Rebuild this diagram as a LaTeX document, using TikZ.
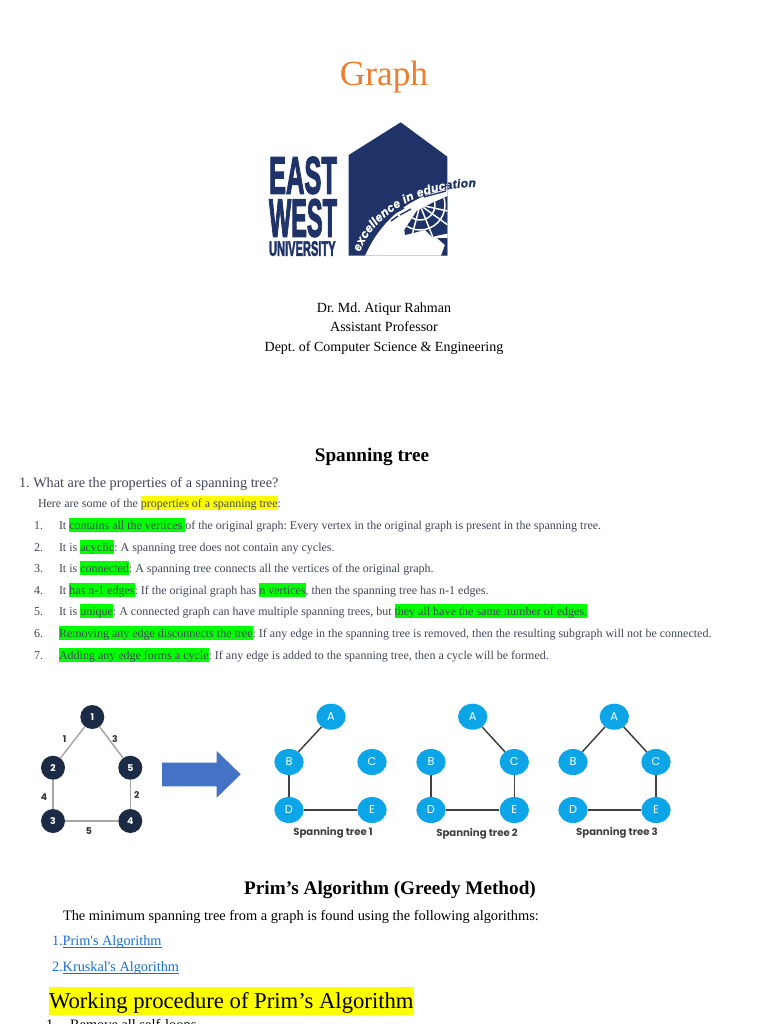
\documentclass[tikz,border=0pt]{standalone}
\usepackage{fontspec}
\usetikzlibrary{shapes.geometric,decorations.text}
\setmainfont{Liberation Serif}
\newfontfamily\lsans{Liberation Sans}[BoldFeatures={FakeBold=3}]
\newfontfamily\tagfont{Liberation Sans}[BoldItalicFeatures={FakeBold=1.5}]
\newfontfamily\linkfont{Liberation Serif}[Ligatures=TeXOff]
\newfontfamily\gsans{Poppins}
\AtBeginDocument{\frenchspacing}
\definecolor{bodyc}{HTML}{43465A}
\definecolor{navy}{HTML}{1F3369}
\definecolor{darkn}{HTML}{1B2B45}
\definecolor{skyb}{HTML}{0BA5E8}
\definecolor{linkb}{HTML}{1A6FD0}
\definecolor{orng}{HTML}{ED7D31}
\definecolor{arrowb}{HTML}{4472C4}
\definecolor{hlgreen}{HTML}{00FF00}
\definecolor{hlyellow}{HTML}{FFFF00}
\newcommand{\hlg}[1]{{\setlength\fboxsep{0pt}\colorbox{hlgreen}{\rule[-2.6pt]{0pt}{10.8pt}#1}}}
\newcommand{\hly}[1]{{\setlength\fboxsep{0pt}\colorbox{hlyellow}{\rule[-2.6pt]{0pt}{10.8pt}#1}}}
\newcommand{\hlw}[1]{{\setlength\fboxsep{0pt}\colorbox{hlyellow}{\rule[-5.25pt]{0pt}{21pt}#1}}}
\tikzset{
 txt/.style={anchor=base west,inner sep=0pt,outer sep=0pt},
 ctr/.style={anchor=base,inner sep=0pt,outer sep=0pt},
 item/.style={txt,text=bodyc,font=\fontsize{9}{10}\selectfont},
 mid/.style={ctr,font=\fontsize{10.5}{13}\selectfont},
 head/.style={ctr,font=\fontsize{14.4}{16}\selectfont\bfseries},
 link/.style={txt,text=linkb,font=\linkfont\fontsize{10.7}{12}\selectfont},
 logotext/.style={anchor=south west,inner sep=0pt,outer sep=0pt,text=navy,font=\lsans\bfseries},
 gnode/.style={circle,fill=darkn,text=white,minimum size=18pt,inner sep=0pt,font=\gsans\bfseries\fontsize{7}{8}\selectfont},
 gedge/.style={draw=black!35,line width=1.1pt},
 glabel/.style={inner sep=0pt,font=\gsans\bfseries\fontsize{7}{8}\selectfont,text=black!80},
 tnode/.style={ellipse,fill=skyb,text=white,minimum width=22pt,minimum height=19.5pt,inner sep=0pt,font=\gsans\fontsize{8.5}{9}\selectfont},
 tedge/.style={draw=black!75,line width=1.1pt},
 tcap/.style={inner sep=0pt,font=\gsans\bfseries\fontsize{7.6}{9}\selectfont,text=black!75},
 wspoke/.style={draw=white,line width=1.1pt},
 bdash/.style={draw=navy,line width=1pt}
}
\begin{document}
\begin{tikzpicture}[x=0.75pt,y=-0.75pt]
\useasboundingbox (0,0) rectangle (768,1024);
\clip (0,0) rectangle (768,1024);
\fill[white] (0,0) rectangle (768,1024);
% title
\node[ctr,text=orng,font=\fontsize{26.5}{30}\selectfont] (title) at (384,85) {Graph};
% logo wordmark
\node[logotext] (east) at (269,194) {\resizebox{51pt}{27.5pt}{EAST}};
\node[logotext] (west) at (269,237) {\resizebox{51pt}{28pt}{WEST}};
\node[logotext] (univ) at (269,256) {\resizebox{50pt}{11pt}{UNIVERSITY}};
% tagline, outer part in blue
\path[decorate,decoration={text along path,text align={fit to path},text={|\tagfont\bfseries\itshape\fontsize{9}{10}\selectfont\color{navy}|excellence in education}}]
 (360,252) .. controls (370,222) and (410,187) .. (476,187);
% house
\fill[navy] (348.7,155) -- (400.7,122.3) -- (447.3,156.7) -- (447.3,255.7) -- (348.7,255.7) -- cycle;
\begin{scope}
\clip (348.7,155) -- (400.7,122.3) -- (447.3,156.7) -- (447.3,255.7) -- (348.7,255.7) -- cycle;
\path[decorate,decoration={text along path,text align={fit to path},text={|\tagfont\bfseries\itshape\fontsize{9}{10}\selectfont\color{white}|excellence in education}}]
 (360,252) .. controls (370,222) and (410,187) .. (476,187);
% globe
\fill[white] (365,256) .. controls (378,226) and (405,196) .. (450,189) -- (450,256) -- cycle;
\begin{scope}
\clip (404.3,230) -- (416.7,211) -- (432,203) -- (450,195) -- (450,233) -- (440,235) -- (432,237) -- (425,230) -- (405,235) -- cycle;
\fill[navy] (400,190) rectangle (450,240);
\draw[wspoke] (420,205) -- (410,243);
\draw[wspoke] (420,205) -- (436,245);
\draw[wspoke] (420,205) -- (452,228);
\draw[wspoke] (420,205) -- (452,212);
\draw[wspoke] (420,205) circle[radius=15];
\draw[wspoke] (420,205) circle[radius=25];
\end{scope}
\draw[bdash] (391,221) -- (398,216);
\draw[bdash] (400,215) -- (411,209);
\draw[bdash] (395,213) -- (404,208);
\draw[bdash] (407,203) -- (418,198);
\draw[bdash] (424,197) -- (446,191);
\fill[navy] (437,238) -- (445,245) -- (441,255.7) -- (448,255.7) -- (448,238) -- cycle;
\end{scope}
% author
\node[mid] (au1) at (384,312) {Dr. Md. Atiqur Rahman};
\node[mid] (au2) at (384,331) {Assistant Professor};
\node[mid] (au3) at (384,351) {Dept. of Computer Science \& Engineering};
% spanning tree
\node[head] (h1) at (372,461) {Spanning tree};
\node[txt,text=bodyc,font=\fontsize{10.7}{12}\selectfont] (q1) at (19,487) {1. What are the properties of a spanning tree?};
\node[item] (intro) at (38,507) {Here are some of the \hly{properties of a spanning tree}:};
\node[item] (n1) at (34,529) {1.};
\node[item] (n2) at (34,551) {2.};
\node[item] (n3) at (34,572) {3.};
\node[item] (n4) at (34,594) {4.};
\node[item] (n5) at (34,615) {5.};
\node[item] (n6) at (34,637) {6.};
\node[item] (n7) at (34,659) {7.};
\node[item] (l1) at (59,529) {It \hlg{contains all the vertices }of the original graph: Every vertex in the original graph is present in the spanning tree.};
\node[item] (l2) at (59,551) {It is \hlg{acyclic}: A spanning tree does not contain any cycles.};
\node[item] (l3) at (59,572) {It is \hlg{connected}: A spanning tree connects all the vertices of the original graph.};
\node[item] (l4) at (59,594) {It \hlg{has n-1 edges}: If the original graph has \hlg{n vertices}, then the spanning tree has n-1 edges.};
\node[item] (l5) at (59,615) {It is \hlg{unique}: A connected graph can have multiple spanning trees, but \hlg{they all have the same number of edges.}};
\node[item] (l6) at (59,637) {\hlg{Removing any edge disconnects the tree}: If any edge in the spanning tree is removed, then the resulting subgraph will not be connected.};
\node[item] (l7) at (59,659) {\hlg{Adding any edge forms a cycle}: If any edge is added to the spanning tree, then a cycle will be formed.};
% weighted graph
\node[gnode] (g1) at (92.3,717) {1};
\node[gnode] (g2) at (53,767.7) {2};
\node[gnode] (g5) at (130.3,767.7) {5};
\node[gnode] (g3) at (53,821) {3};
\node[gnode] (g4) at (130.3,821) {4};
\draw[gedge] (g1) -- (g2);
\draw[gedge] (g1) -- (g5);
\draw[gedge] (g2) -- (g3);
\draw[gedge] (g5) -- (g4);
\draw[gedge] (g3) -- (g4);
\node[glabel] (w1) at (64.7,739.3) {1};
\node[glabel] (w3) at (115,739.3) {3};
\node[glabel] (w4) at (44,796.7) {4};
\node[glabel] (w2) at (136.7,795) {2};
\node[glabel] (w5) at (89,831) {5};
% block arrow
\fill[arrowb] (162,762.7) -- (216.7,762.7) -- (216.7,751) -- (240.7,774.3) -- (216.7,797.7) -- (216.7,786.3) -- (162,786.3) -- cycle;
% tree 1
\node[tnode] (a1) at (331,716.7) {A};
\node[tnode] (b1) at (289,762) {B};
\node[tnode] (c1) at (372,762) {C};
\node[tnode] (d1) at (289,810) {D};
\node[tnode] (e1) at (372,810) {E};
\draw[tedge] (a1) -- (b1);
\draw[tedge] (b1) -- (d1);
\draw[tedge] (d1) -- (e1);
\node[tcap] (cap1) at (333,833) {Spanning tree 1};
% tree 2
\node[tnode] (a2) at (472.7,716.7) {A};
\node[tnode] (b2) at (431,762) {B};
\node[tnode] (c2) at (514.3,762) {C};
\node[tnode] (d2) at (431,810) {D};
\node[tnode] (e2) at (514.3,810) {E};
\draw[tedge] (a2) -- (c2);
\draw[tedge] (c2) -- (e2);
\draw[tedge] (b2) -- (d2);
\draw[tedge] (d2) -- (e2);
\node[tcap] (cap2) at (477,834) {Spanning tree 2};
% tree 3
\node[tnode] (a3) at (614.3,716.7) {A};
\node[tnode] (b3) at (573,762) {B};
\node[tnode] (c3) at (656,762) {C};
\node[tnode] (d3) at (573,810) {D};
\node[tnode] (e3) at (656,810) {E};
\draw[tedge] (a3) -- (b3);
\draw[tedge] (a3) -- (c3);
\draw[tedge] (c3) -- (e3);
\draw[tedge] (d3) -- (e3);
\node[tcap] (cap3) at (617,833) {Spanning tree 3};
% prim
\node[head] (h2) at (390,894) {Prim’s Algorithm (Greedy Method)};
\node[txt,font=\fontsize{10.8}{12}\selectfont] (p1) at (63,920) {The minimum spanning tree from a graph is found using the following algorithms:};
\node[link] (lk1) at (52,945) {1.\underline{\smash{Prim's Algorithm}}};
\node[link] (lk2) at (52,971) {2.\underline{\smash{Kruskal's Algorithm}}};
\node[txt,font=\fontsize{17}{20}\selectfont] (wp) at (49,1008) {\hlw{Working procedure of Prim’s Algorithm}};
\node[txt,font=\fontsize{10.8}{12}\selectfont] (wn) at (46,1029) {1.};
\node[txt,font=\fontsize{10.8}{12}\selectfont] (w1t) at (70,1029) {Remove all self-loops};
\end{tikzpicture}
\end{document}
